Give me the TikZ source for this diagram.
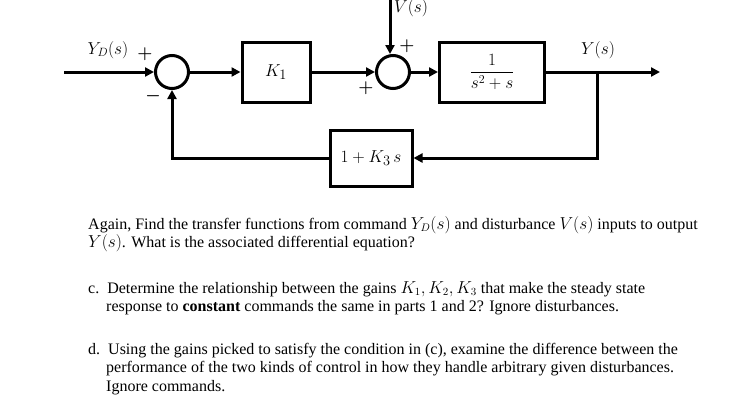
\documentclass[tikz,border=0pt]{standalone}
\usepackage{amsmath}
\usepackage{fontspec}
\setmainfont{Liberation Serif}
\usetikzlibrary{arrows.meta}
\begin{document}
\begin{tikzpicture}[x=1pt,y=-1pt,
  blk/.style={draw,line width=3pt,minimum width=#1,inner sep=0pt},
  sumc/.style={draw,circle,line width=3pt,minimum size=33pt,inner sep=0pt},
  sig/.style={line width=3pt,-{Triangle[length=9pt,width=9pt]}},
  lbl/.style={font=\fontsize{18}{20}\selectfont,inner sep=0pt},
  para/.style={font=\fontsize{16}{18.5}\selectfont,inner sep=0pt,anchor=north west,align=left}]
\useasboundingbox (0,0) rectangle (734,418);
\coordinate (in) at (64,72);
\node[sumc] (s1) at (172,72) {};
\node[blk=68pt,minimum height=60pt] (k1) at (276,72) {\fontsize{19}{20}\selectfont$K_1$};
\node[sumc] (s2) at (393,72) {};
\node[blk=105pt,minimum height=60pt] (g) at (492,72) {\fontsize{18}{20}\selectfont$\dfrac{1}{s^2+s}$};
\coordinate (out) at (660,72);
\coordinate (tap) at (597,72);
\node[blk=82pt,minimum height=56pt] (h) at (371,158) {\fontsize{19}{20}\selectfont$1+K_3\,s$};
\coordinate (vt) at (390,0);
\draw[sig] (in) -- (s1);
\draw[sig] (s1) -- (k1);
\draw[sig] (k1) -- (s2);
\draw[sig] (s2) -- (g);
\draw[sig] (g) -- (out);
\draw[sig] (vt) -- (vt |- s2.north);
\draw[sig] (tap) |- (h);
\draw[sig] (h.west) -| (s1.south);
\node[lbl] (lyd) at (108,50) {$Y_D(s)$};
\node[lbl] (p1) at (145,54) {$\boldsymbol{+}$};
\node[lbl] (m1) at (153,96) {$\boldsymbol{-}$};
\node[lbl] (p2) at (366,88) {$\boldsymbol{+}$};
\node[lbl] (p3) at (407,46) {$\boldsymbol{+}$};
\node[lbl] (ly) at (598,50) {$Y(s)$};
\node[lbl,anchor=west] (lv) at (394,8) {$V(s)$};
\node[para] (t1) at (88,216) {Again, Find the transfer functions from command $Y_D(s)$ and disturbance $V(s)$ inputs to output\\$Y(s)$. What is the associated differential equation?};
\node[para] (t2) at (88,281) {c.\ \ Determine the relationship between the gains $K_1, K_2, K_3$ that make the steady state\\\hspace*{18pt}response to \textbf{constant} commands the same in parts 1 and 2? Ignore disturbances.};
\node[para] (t3) at (88,343) {d.\ \ Using the gains picked to satisfy the condition in (c), examine the difference between the\\\hspace*{18pt}performance of the two kinds of control in how they handle arbitrary given disturbances.\\\hspace*{18pt}Ignore commands.};
\end{tikzpicture}
\end{document}
